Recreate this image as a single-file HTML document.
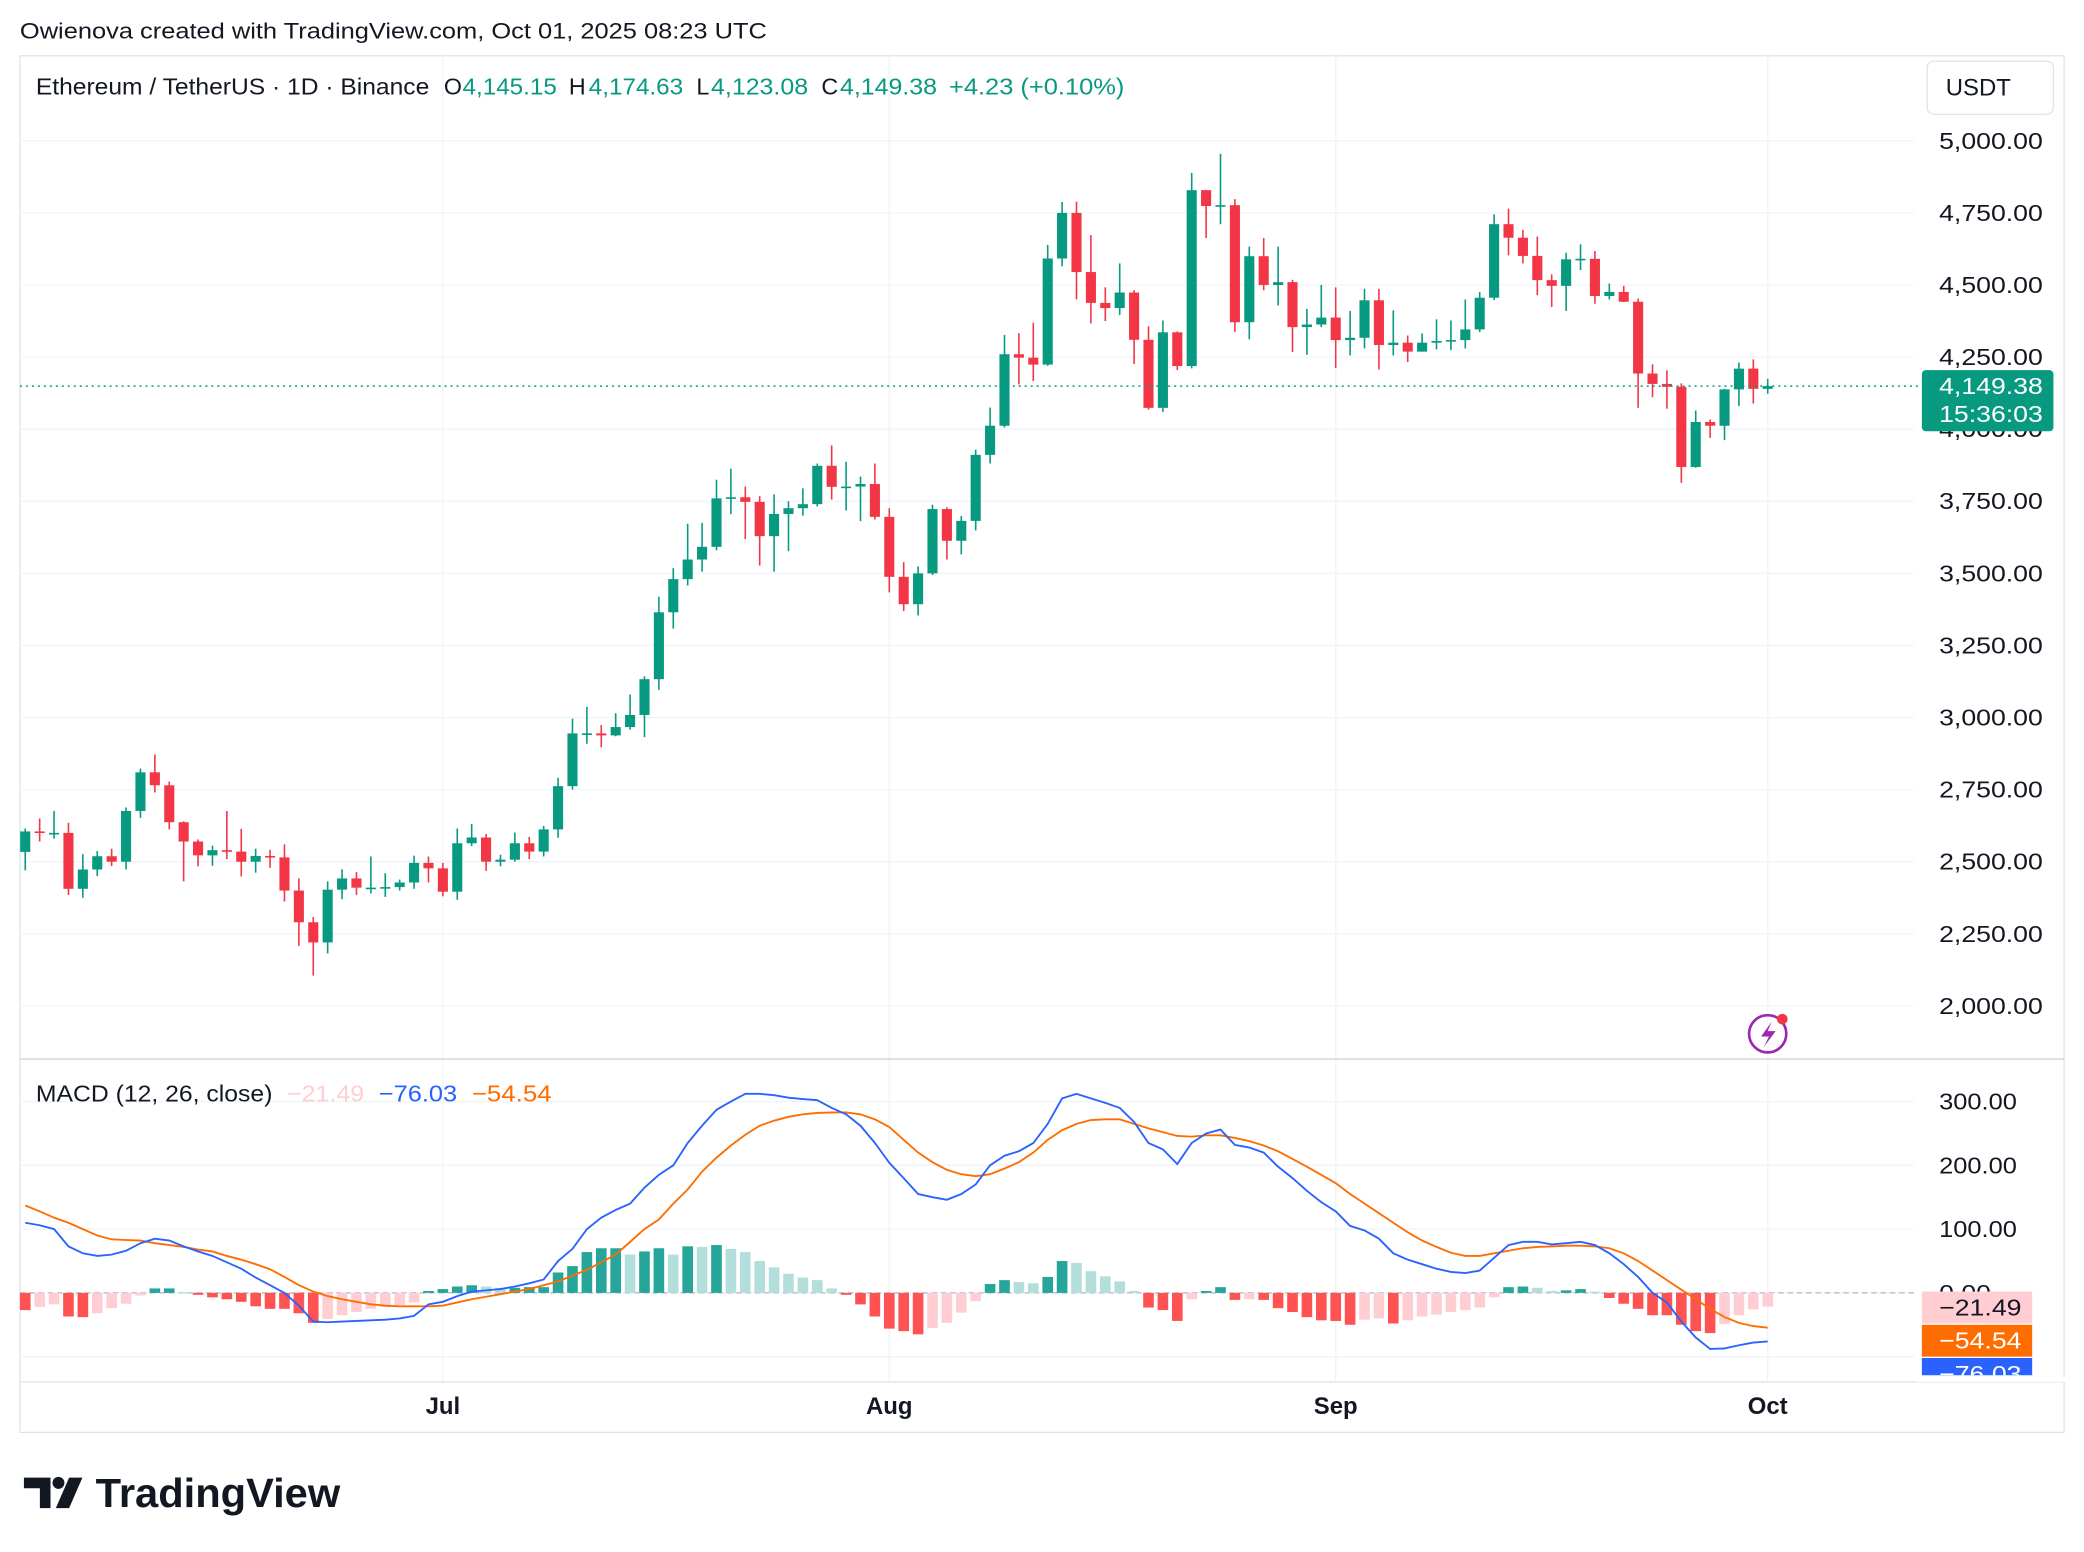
<!DOCTYPE html>
<html><head><meta charset="utf-8"><style>
html,body{margin:0;padding:0;background:#fff;}
svg{display:block;font-family:"Liberation Sans",Arial,sans-serif;}
</style></head><body>
<svg id="chart" width="2084" height="1552" viewBox="0 0 1568 1168" preserveAspectRatio="none" xmlns="http://www.w3.org/2000/svg">
<rect x="0" y="0" width="1568" height="1168" fill="#ffffff"/>
<text x="15" y="29" font-size="17" fill="#131722" textLength="562" lengthAdjust="spacingAndGlyphs">Owienova created with TradingView.com, Oct 01, 2025 08:23 UTC</text>
<rect x="15" y="42" width="1538" height="1036" fill="none" stroke="#e0e3eb" stroke-width="1"/>
<g id="grid"></g>
<g id="candles"></g>
<g id="macd"></g>
<line x1="15" y1="797" x2="1553" y2="797" stroke="#d1d4dc" stroke-width="1"/>
<g id="axes"></g>
<g font-size="17.5">
<text x="27" y="71" fill="#131722" textLength="296" lengthAdjust="spacingAndGlyphs">Ethereum / TetherUS · 1D · Binance</text>
<text x="334" y="71" fill="#131722">O</text><text x="348" y="71" fill="#089981" textLength="71" lengthAdjust="spacingAndGlyphs">4,145.15</text>
<text x="428" y="71" fill="#131722">H</text><text x="443" y="71" fill="#089981" textLength="71" lengthAdjust="spacingAndGlyphs">4,174.63</text>
<text x="524" y="71" fill="#131722">L</text><text x="535" y="71" fill="#089981" textLength="73" lengthAdjust="spacingAndGlyphs">4,123.08</text>
<text x="618" y="71" fill="#131722">C</text><text x="632" y="71" fill="#089981" textLength="73" lengthAdjust="spacingAndGlyphs">4,149.38</text>
<text x="714" y="71" fill="#089981" textLength="132" lengthAdjust="spacingAndGlyphs">+4.23 (+0.10%)</text>
</g>
<g>
<rect x="1450" y="46" width="95" height="40" rx="5" fill="#fff" stroke="#e0e3eb"/>
<text x="1464" y="72" font-size="18" fill="#131722">USDT</text>
</g>
<g font-size="17.5">
<text x="27" y="829" fill="#131722" textLength="178" lengthAdjust="spacingAndGlyphs">MACD (12, 26, close)</text>
<text x="216" y="829" fill="#ffcdd2" textLength="58" lengthAdjust="spacingAndGlyphs">−21.49</text>
<text x="285" y="829" fill="#2962ff" textLength="59" lengthAdjust="spacingAndGlyphs">−76.03</text>
<text x="355" y="829" fill="#ff6d00" textLength="60" lengthAdjust="spacingAndGlyphs">−54.54</text>
</g>
<g>
<circle cx="1330" cy="778" r="14" fill="none" stroke="#9c27b0" stroke-width="2"/>
<path d="M1333 769 L1325 780 L1331 780 L1327 788 L1336 776 L1330 776 Z" fill="#9c27b0"/>
<circle cx="1341" cy="767" r="4" fill="#f23645"/>
</g>
<g>
<path d="M18 1112 H38 V1135 H30 V1120 H18 Z" fill="#131722"/>
<circle cx="44" cy="1116" r="4.5" fill="#131722"/>
<path d="M52 1112 H62 L52 1135 H42 Z" fill="#131722"/>
<text x="72" y="1134" font-size="31" font-weight="bold" fill="#131722" textLength="184" lengthAdjust="spacingAndGlyphs">TradingView</text>
</g>
<script>
const closes=[2605,2600,2600,2406,2473,2519,2500,2676,2810,2765,2637,2570,2522,2540,2535,2500,2520,2515,2400,2290,2220,2403,2442,2410,2410,2412,2428,2496,2477,2396,2564,2584,2500,2507,2564,2535,2612,2762,2945,2945,2938,2967,3009,3133,3365,3480,3548,3592,3760,3764,3748,3629,3706,3726,3740,3873,3800,3801,3810,3696,3488,3393,3500,3723,3613,3682,3911,4012,4260,4248,4224,4592,4750,4545,4438,4420,4474,4310,4074,4336,4219,4829,4774,4777,4371,4600,4500,4510,4354,4363,4387,4309,4317,4447,4292,4300,4269,4300,4306,4309,4346,4456,4711,4664,4601,4517,4497,4589,4591,4462,4476,4442,4193,4157,4147,3869,4025,4012,4138,4210,4140,4149.38];
const highs=[2615,2650,2676,2635,2526,2537,2545,2688,2823,2872,2778,2640,2577,2556,2676,2614,2545,2541,2560,2442,2308,2432,2474,2464,2518,2460,2438,2521,2518,2496,2615,2631,2596,2524,2601,2586,2624,2791,2996,3037,2974,3015,3080,3143,3419,3518,3672,3675,3825,3863,3801,3768,3774,3750,3795,3881,3944,3887,3836,3881,3726,3539,3524,3738,3729,3699,3929,4075,4327,4333,4369,4639,4788,4789,4673,4492,4575,4482,4357,4377,4339,4889,4830,4955,4798,4633,4663,4633,4518,4417,4500,4492,4410,4487,4487,4412,4325,4332,4381,4377,4450,4476,4745,4765,4691,4668,4537,4612,4641,4618,4505,4497,4453,4225,4204,4159,4065,4034,4140,4231,4242,4174.63];
const lows=[2470,2570,2580,2385,2375,2450,2485,2473,2652,2740,2612,2432,2484,2486,2509,2449,2462,2479,2362,2208,2105,2182,2370,2385,2390,2378,2400,2406,2428,2380,2368,2554,2468,2484,2500,2509,2518,2583,2750,2909,2897,2935,2958,2932,3096,3308,3458,3506,3580,3705,3619,3527,3506,3577,3700,3732,3756,3718,3681,3687,3434,3369,3354,3494,3548,3566,3649,3881,4006,4155,4167,4220,4565,4450,4367,4375,4396,4226,4068,4060,4205,4211,4663,4711,4337,4312,4482,4429,4268,4258,4354,4212,4256,4280,4207,4256,4233,4269,4277,4274,4280,4337,4448,4603,4575,4465,4424,4410,4552,4435,4450,4441,4074,4111,4071,3814,3866,3970,3962,4080,4089,4123.08];
const firstOpen=2534;
const macdLine=[110,106,100,73,62,58,60,66,78,85,82,73,65,58,48,38,24,12,0,-20,-45,-46,-45,-44,-43,-42,-40,-36,-18,-14,-5,2,4,6,10,15,21,50,69,100,118,130,140,165,185,200,235,262,287,300,312,312,310,306,304,302,290,280,262,235,204,180,155,150,146,155,170,200,215,222,235,265,305,312,305,298,290,268,235,225,202,235,250,256,232,228,220,198,180,160,142,128,105,98,85,62,52,45,38,33,31,35,55,75,80,80,76,78,80,75,62,45,25,0,-15,-45,-70,-88,-87,-82,-78,-76.03];
const signalLine=[137,128,118,110,100,90,84,83,82,78,75,72,68,65,58,52,45,37,25,12,2,-5,-10,-14,-18,-20,-21,-21,-21,-20,-15,-10,-6,-2,2,6,12,18,27,36,48,60,80,100,115,140,162,190,212,231,248,262,270,276,280,282,283,283,280,272,260,240,220,205,193,186,183,186,195,205,220,240,255,265,271,272,272,265,258,252,246,245,247,247,243,238,231,222,210,198,185,172,155,140,125,110,95,82,72,63,58,58,62,66,70,72,73,74,74,73,70,62,50,35,20,5,-10,-25,-38,-47,-52,-54.54];
const priceTicks=[5000,4750,4500,4250,4000,3750,3500,3250,3000,2750,2500,2250,2000];
const macdTicks=[300,200,100,0];
const monthLabels=["Jul","Aug","Sep","Oct"];
const monthIndex=[29,60,91,121];

const NS="http://www.w3.org/2000/svg";
const X=i=>19+i*10.835;
const Y=p=>106+(5000-p)*0.217;
const MY=v=>973-v*0.48;
function mk(tag,attrs,parent){const e=document.createElementNS(NS,tag);for(const k in attrs)e.setAttribute(k,attrs[k]);parent.appendChild(e);return e;}
const fmt=v=>v.toLocaleString("en-US",{minimumFractionDigits:2,maximumFractionDigits:2});
const grid=document.getElementById("grid"),cg=document.getElementById("candles"),mg=document.getElementById("macd"),ax=document.getElementById("axes");

priceTicks.forEach(p=>{
  const l=mk("line",{x1:15,x2:1440,y1:Y(p),y2:Y(p),stroke:"#f0f3fa","stroke-width":1},grid);
  
  
  const s=fmt(p);
  const t=mk("text",{x:1459,y:Y(p)+6,"font-size":17.5,fill:"#131722",textLength:s.length*9.75,lengthAdjust:"spacingAndGlyphs"},ax);
  
  
  t.textContent=s;
});
macdTicks.forEach(v=>{
  const l=mk("line",{x1:15,x2:1440,y1:MY(v),y2:MY(v),stroke:"#f0f3fa","stroke-width":1},grid);
  
  
  const s=fmt(v);
  const t=mk("text",{x:1459,y:MY(v)+6,"font-size":17.5,fill:"#131722",textLength:s.length*9.75,lengthAdjust:"spacingAndGlyphs"},ax);
  
  
  t.textContent=s;
});
mk("line",{x1:15,x2:1440,y1:MY(-100),y2:MY(-100),stroke:"#f0f3fa"},grid);
monthLabels.forEach((m,k)=>{
  const x=X(monthIndex[k]);
  const l=mk("line",{x1:x,x2:x,y1:42,y2:1040,stroke:"#f0f3fa","stroke-width":1},grid);
  
  
  const t=mk("text",{x:x,y:1064,"font-size":18,"font-weight":"bold","text-anchor":"middle",fill:"#131722"},ax);
  
  
  t.textContent=m;
});
mk("line",{x1:15,x2:1553,y1:1040,y2:1040,stroke:"#e0e3eb"},ax);

closes.forEach((c,i)=>{
  const o=i===0?firstOpen:closes[i-1];
  const up=c>=o, col=up?"#089981":"#f23645", x=X(i);
  const g=mk("g",{},cg);
  
  
  mk("line",{x1:x,x2:x,y1:Y(highs[i]),y2:Y(lows[i]),stroke:col,"stroke-width":1.2},g);
  const top=Y(Math.max(o,c)),bot=Y(Math.min(o,c));
  mk("rect",{x:x-3.8,y:top,width:7.6,height:Math.max(1.2,bot-top),fill:col},g);
});
const lp=closes[closes.length-1];
const pl=mk("line",{x1:15,x2:1446,y1:Y(lp),y2:Y(lp),stroke:"#089981","stroke-width":1.2,"stroke-dasharray":"1.5 3"},cg);


const pb=mk("g",{},ax);


mk("rect",{x:1446,y:Y(lp)-12,width:99,height:46,rx:3,fill:"#089981"},pb);
const t1=mk("text",{x:1459,y:Y(lp)+6,"font-size":17.5,fill:"#fff",textLength:78,lengthAdjust:"spacingAndGlyphs"},pb);t1.textContent=fmt(lp);
const t2=mk("text",{x:1459,y:Y(lp)+27,"font-size":17.5,fill:"#fff",textLength:78,lengthAdjust:"spacingAndGlyphs"},pb);t2.textContent="15:36:03";

const zl=mk("line",{x1:15,x2:1440,y1:MY(0),y2:MY(0),stroke:"#b2b5be","stroke-width":1,"stroke-dasharray":"4 3"},mg);


let prevH=null;
macdLine.forEach((m,i)=>{
  const h=m-signalLine[i];
  let col;
  if(h>=0) col=(prevH===null||h>=prevH)?"#26a69a":"#b2dfdb";
  else col=(prevH===null||h<=prevH)?"#ff5252":"#ffcdd2";
  prevH=h;
  const y0=MY(0),y1=MY(h);
  const r=mk("rect",{x:X(i)-4,y:Math.min(y0,y1),width:8,height:Math.max(1,Math.abs(y1-y0)),fill:col},mg);
  
  
});
function line(arr,col,name){
  const d=arr.map((v,i)=>(i?"L":"M")+X(i).toFixed(1)+" "+MY(v).toFixed(1)).join(" ");
  const p=mk("path",{d:d,fill:"none",stroke:col,"stroke-width":1.4},mg);
  
  
}
line(signalLine,"#ff6d00","signal-line");
line(macdLine,"#2962ff","macd-line");

const hv=macdLine[macdLine.length-1]-signalLine[signalLine.length-1];
function box(y,bg,fg,val,name){
  const g=mk("g",{},ax);
  
  
  mk("rect",{x:1446,y:y,width:83,height:24,fill:bg},g);
  const t=mk("text",{x:1459,y:y+18,"font-size":17.5,fill:fg,textLength:62,lengthAdjust:"spacingAndGlyphs"},g);
  t.textContent="−"+fmt(Math.abs(val));
}
mk("rect",{x:1441,y:1036,width:127,height:4,fill:"#fff"},ax);
box(972,"#ffcdd2","#131722",hv,"histogram-value-label");
box(997,"#ff6d00","#ffffff",signalLine[signalLine.length-1],"signal-value-label");
const clip=mk("clipPath",{id:"cl"},ax);mk("rect",{x:1440,y:1021,width:120,height:14},clip);
const bg=mk("g",{"clip-path":"url(#cl)"},ax);


mk("rect",{x:1446,y:1022,width:83,height:24,fill:"#2962ff"},bg);
const t3=mk("text",{x:1459,y:1040,"font-size":17.5,fill:"#fff",textLength:62,lengthAdjust:"spacingAndGlyphs"},bg);t3.textContent="−"+fmt(Math.abs(macdLine[macdLine.length-1]));
</script>
</svg>
</body></html>
